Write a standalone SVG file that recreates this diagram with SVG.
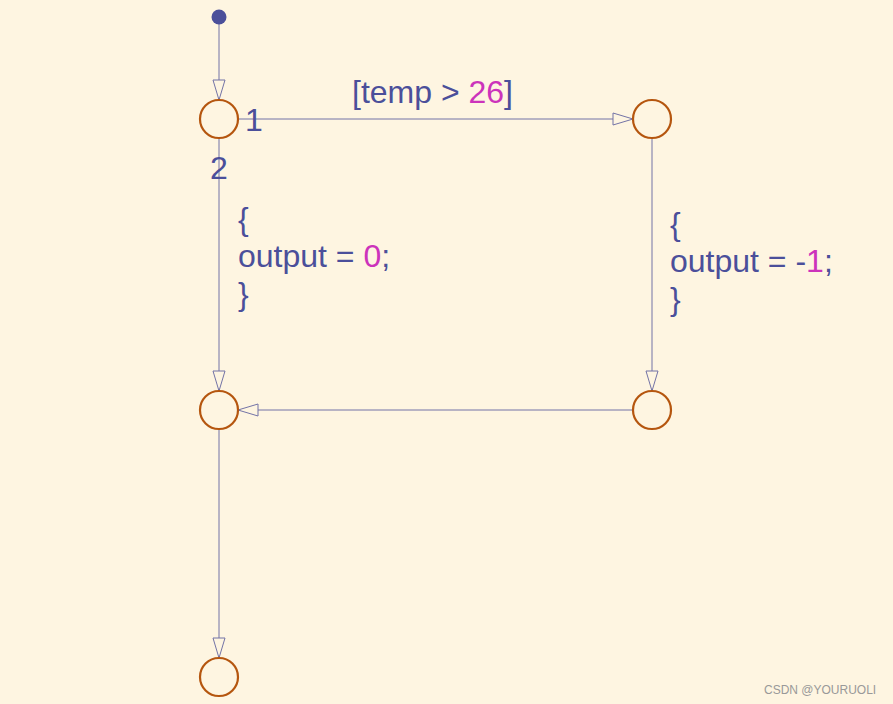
<svg xmlns="http://www.w3.org/2000/svg" width="893" height="704" viewBox="0 0 893 704">
<style>
.n{fill:none;stroke:#B5560F;stroke-width:2.2}
.c{fill:none;stroke:#7373A6;stroke-width:1}
.t{font-family:"Liberation Sans",Arial,sans-serif;font-size:32px;fill:#4B4F9A}
.m{fill:#CC33BB}
</style>
<defs><marker id="a" markerWidth="22" markerHeight="14" refX="21" refY="7" orient="auto" markerUnits="userSpaceOnUse"><path d="M1,1 L21,7 L1,13 Z" fill="#FEF5E1" stroke="#7373A6" stroke-width="1"/></marker></defs>
<rect width="893" height="704" fill="#FEF5E1"/>
<g id="connectors">
<path class="c" d="M219,24 V100" marker-end="url(#a)"/>
<path class="c" d="M238,119 H633" marker-end="url(#a)"/>
<path class="c" d="M219,138 V391" marker-end="url(#a)"/>
<path class="c" d="M652,138 V391" marker-end="url(#a)"/>
<path class="c" d="M633,410 H238" marker-end="url(#a)"/>
<path class="c" d="M219,429 V658" marker-end="url(#a)"/>
</g>
<g id="start"><circle cx="219" cy="17" r="7.5" fill="#4B4F9A"/></g>
<g id="n1"><circle class="n" cx="219" cy="119" r="19"/></g>
<g id="n2"><circle class="n" cx="652" cy="119" r="19"/></g>
<g id="n3"><circle class="n" cx="219" cy="410" r="19"/></g>
<g id="n4"><circle class="n" cx="652" cy="410" r="19"/></g>
<g id="n5"><circle class="n" cx="219" cy="677" r="19"/></g>
<g id="labels">
<text class="t" x="245" y="131">1</text>
<text class="t" x="210" y="179">2</text>
<text class="t" x="352" y="103">[temp &gt; <tspan class="m">26</tspan>]</text>
<text class="t" x="238" y="230">{</text>
<text class="t" x="238" y="267">output = <tspan class="m">0</tspan>;</text>
<text class="t" x="238" y="305">}</text>
<text class="t" x="670" y="235">{</text>
<text class="t" x="670" y="272">output = -<tspan class="m">1</tspan>;</text>
<text class="t" x="670" y="310">}</text>
<text x="764" y="694" font-family="Liberation Sans,Arial,sans-serif" font-size="12" fill="#999">CSDN @YOURUOLI</text>
</g>
</svg>
